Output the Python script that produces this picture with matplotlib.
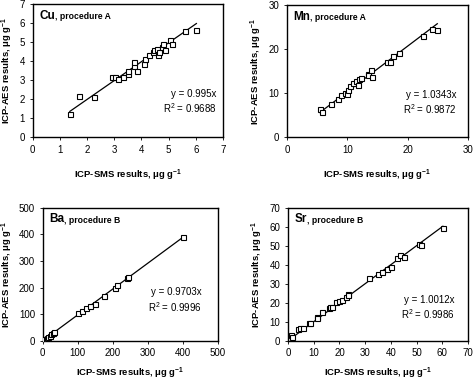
import numpy as np
import matplotlib
matplotlib.use("Agg")
from matplotlib import pyplot as plt

plt.rcParams['font.family'] = ['Liberation Sans', 'DejaVu Sans']
plt.rcParams['mathtext.fontset'] = 'custom'
plt.rcParams['mathtext.rm'] = 'Liberation Sans'
plt.rcParams['mathtext.bf'] = 'Liberation Sans:bold'

# Cu, procedure A
cu_sms = [1.37, 1.71, 2.26, 2.92, 3.04, 3.14, 3.33, 3.52, 3.52, 3.74, 3.74, 3.83, 4.08,
          4.14, 4.28, 4.44, 4.47, 4.56, 4.60, 4.65, 4.74, 4.79, 4.85, 5.06, 5.14, 5.61, 6.02]
cu_aes = [1.21, 2.15, 2.12, 3.17, 3.20, 3.08, 3.17, 3.33, 3.49, 3.73, 3.96, 3.50, 3.87,
          4.10, 4.33, 4.48, 4.59, 4.66, 4.31, 4.48, 4.76, 4.89, 4.60, 5.10, 4.92, 5.62, 5.64]

# Mn, procedure A
mn_sms = [5.44, 5.77, 7.31, 8.41, 8.9, 9.67, 9.95, 10.05, 10.5, 11.0, 11.5, 11.7, 11.9,
          12.3, 13.4, 13.5, 13.9, 14.0, 16.6, 17.1, 17.6, 18.5, 22.5, 24.0, 24.9]
mn_aes = [6.4, 5.8, 7.5, 8.7, 9.5, 10.1, 9.75, 10.7, 11.7, 12.2, 12.7, 11.9, 13.2,
          13.5, 14.4, 14.1, 15.2, 13.6, 17.1, 17.0, 18.5, 19.2, 22.9, 24.6, 24.3]

# Ba, procedure B
ba_sms = [1, 2, 3, 5, 8, 12, 15, 20, 24, 30, 33, 100, 112, 125, 136, 149, 176, 206, 211,
          241, 245, 401]
ba_aes = [1, 2, 3, 5, 7, 12, 14, 18, 24, 29, 31, 104, 110, 122, 129, 139, 167, 197, 209,
          237, 239, 389]

# Sr, procedure B
sr_sms = [1.3, 1.6, 3.9, 4.8, 5.7, 8.2, 8.6, 11.2, 11.3, 13.4, 15.8, 16.3, 17.2, 18.8, 19.8,
          20.9, 22.7, 23.3, 23.5, 31.3, 35.0, 36.7, 38.4, 39.9, 42.5, 43.6, 45.0, 51.0, 51.8, 60.2]
sr_aes = [2.8, 1.9, 6.0, 6.5, 6.8, 9.5, 9.1, 12.5, 11.9, 14.9, 17.0, 17.7, 17.7, 20.2, 21.1,
          21.6, 23.0, 24.4, 23.9, 33.0, 35.1, 36.0, 37.9, 38.8, 43.3, 45.1, 44.0, 50.7, 50.4, 59.5]

panels = [
    ('Cu', 'procedure A', cu_sms, cu_aes, 0.995, '0.995', '0.9688', 7, 1,
     [0.0686, 0.6406, 0.402, 0.348], 9, (0.967, 0.326, 0.22)),
    ('Mn', 'procedure A', mn_sms, mn_aes, 1.0343, '1.0343', '0.9872', 30, 10,
     [0.6055, 0.6406, 0.382, 0.3463], 9, (0.935, 0.32, 0.21)),
    ('Ba', 'procedure B', ba_sms, ba_aes, 0.9703, '0.9703', '0.9996', 500, 100,
     [0.0901, 0.1081, 0.369, 0.348], 5, (0.91, 0.368, 0.253)),
    ('Sr', 'procedure B', sr_sms, sr_aes, 1.0012, '1.0012', '0.9986', 70, 10,
     [0.6076, 0.1081, 0.380, 0.348], 5, (0.924, 0.306, 0.198)),
]

fig = plt.figure(figsize=(4.74, 3.82), dpi=100)

for el, proc, xs, ys, slope, slope_s, r2, lim, step, rect, lpad, eqpos in panels:
    ax = fig.add_axes(rect)
    xs = np.array(xs)
    ys = np.array(ys)
    xl = np.array([xs.min(), xs.max()])
    ax.plot(xl, slope * xl, color='black', lw=0.9, zorder=2)
    ax.plot(xs, ys, linestyle='none', marker='s', markersize=3.6, markerfacecolor='white',
            markeredgecolor='black', markeredgewidth=0.8, zorder=3)
    ax.set_xlim(0, lim)
    ax.set_ylim(0, lim)
    ax.set_xticks(np.arange(0, lim + step / 2, step))
    ax.set_yticks(np.arange(0, lim + step / 2, step))
    ax.tick_params(direction='out', length=2.5, width=0.6, labelsize=7, pad=3)
    for s in ax.spines.values():
        s.set_linewidth(1.0)
    t = ax.text(0.035, 0.89, el, transform=ax.transAxes, fontsize=8.5, fontweight='bold',
                ha='left', va='baseline')
    ax.annotate(', ' + proc, xy=(1, 0), xycoords=t, xytext=(0, 0.5), textcoords='offset points',
                fontsize=6.2, fontweight='bold', ha='left', va='bottom')
    ax.text(eqpos[0], eqpos[1], 'y = ' + slope_s + 'x', transform=ax.transAxes, fontsize=7,
            ha='right', va='center')
    ax.text(eqpos[0], eqpos[2], 'R$^2$ = ' + r2, transform=ax.transAxes, fontsize=7,
            ha='right', va='center')
    ax.set_xlabel(r'ICP-SMS results, μg g$^{\mathbf{-1}}$', fontsize=6.8, fontweight='bold',
                  labelpad=lpad)
    ax.set_ylabel(r'ICP-AES results, μg g$^{\mathbf{-1}}$', fontsize=6.8, fontweight='bold',
                  labelpad=3)

fig.savefig('out.png', dpi=100)
